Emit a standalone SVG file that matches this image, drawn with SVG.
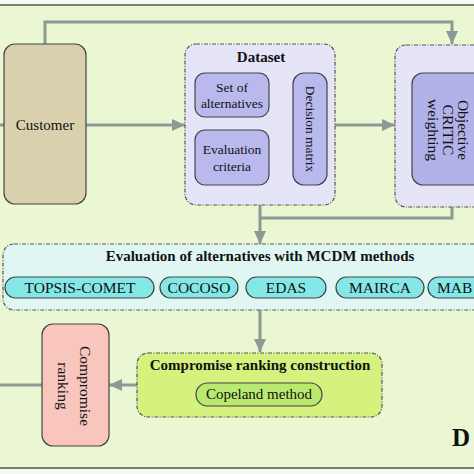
<svg xmlns="http://www.w3.org/2000/svg" width="474" height="474" viewBox="0 0 474 474">
<defs>
<marker id="ah" markerUnits="userSpaceOnUse" markerWidth="14" markerHeight="14" refX="13" refY="7" orient="auto">
<path d="M0,1 L13,7 L0,13 Z" fill="#8c9a96"/>
</marker>
<style>
.t{font-family:"Liberation Serif","Times New Roman",serif;fill:#111;text-anchor:middle}
.b{font-weight:bold}
.dash{stroke:#555;stroke-width:1.2;stroke-dasharray:4 1.5 1 1.5}
.solid{stroke:#444;stroke-width:1.2}
.con{fill:none;stroke:#8c9a96;stroke-width:3}
</style>
</defs>
<rect x="0" y="0" width="474" height="474" fill="#f5f9ef"/>
<rect x="0" y="5" width="474" height="463" fill="#ebf6d2"/>
<line x1="0" y1="5" x2="474" y2="5" stroke="#555" stroke-width="1.6"/>
<line x1="0" y1="468" x2="474" y2="468" stroke="#555" stroke-width="1.6"/>

<g id="connectors">
<path class="con" d="M0,125 H4"/>
<path class="con" d="M86,125 H185" marker-end="url(#ah)"/>
<path class="con" d="M45,44 V22 H452 V44" marker-end="url(#ah)"/>
<path class="con" d="M269,95 H277 V157 H269"/>
<path class="con" d="M277,128 H293" marker-end="url(#ah)"/>
<path class="con" d="M335,125 H395" marker-end="url(#ah)"/>
<path class="con" d="M260,205 V244" marker-end="url(#ah)"/>
<path class="con" d="M452,207 V218 H260"/>
<path class="con" d="M260,310 V352" marker-end="url(#ah)"/>
<path class="con" d="M137,385 H109" marker-end="url(#ah)"/>
<path class="con" d="M42,385 H0"/>
</g>

<g id="customer">
<rect x="4" y="44" width="82" height="160" rx="11" fill="#d9d1ae" class="solid"/>
<text class="t" x="45" y="130" font-size="15">Customer</text>
</g>

<g id="dataset">
<rect x="185" y="44" width="150" height="161" rx="11" fill="#e5e5f7" class="dash"/>
<text class="t b" x="261" y="62" font-size="15">Dataset</text>
</g>
<g id="set-of-alternatives">
<rect x="195" y="73" width="74" height="44" rx="10" fill="#b9b9ee" class="solid"/>
<text class="t" x="232" y="92" font-size="13.5">Set of</text>
<text class="t" x="232" y="108" font-size="13.5">alternatives</text>
</g>
<g id="evaluation-criteria">
<rect x="195" y="130" width="74" height="55" rx="10" fill="#b9b9ee" class="solid"/>
<text class="t" x="232" y="154" font-size="13.5">Evaluation</text>
<text class="t" x="232" y="171" font-size="13.5">criteria</text>
</g>
<g id="decision-matrix">
<rect x="293" y="73" width="34" height="112" rx="11" fill="#b9b9ee" class="solid"/>
<text class="t" transform="translate(310,129) rotate(90)" x="0" y="0" dominant-baseline="central" font-size="13.5">Decision matrix</text>
</g>

<g id="objective">
<rect x="395" y="45" width="90" height="162" rx="11" fill="#e5e5f7" class="dash"/>
<rect x="412" y="73" width="80" height="112" rx="11" fill="#b2b2ea" class="solid"/>
<g transform="translate(448,130) rotate(90)">
<text class="t" x="0" y="-15" dominant-baseline="central" font-size="15.5">Objective</text>
<text class="t" x="0" y="0" dominant-baseline="central" font-size="15.5">CRITIC</text>
<text class="t" x="0" y="15" dominant-baseline="central" font-size="15.5">weighting</text>
</g>
</g>

<g id="evaluation">
<rect x="3" y="244" width="490" height="66" rx="11" fill="#e0f6f3" class="dash"/>
<text class="t b" x="260" y="261" font-size="15">Evaluation of alternatives with MCDM methods</text>
</g>
<g id="topsis-comet">
<rect x="5" y="277" width="149" height="21" rx="10.5" fill="#85e8e6" class="solid"/>
<text class="t" x="80" y="293" font-size="15.5">TOPSIS-COMET</text>
</g>
<g id="cocoso">
<rect x="160" y="277" width="78" height="21" rx="10.5" fill="#85e8e6" class="solid"/>
<text class="t" x="199" y="293" font-size="15.5">COCOSO</text>
</g>
<g id="edas">
<rect x="246" y="277" width="80" height="21" rx="10.5" fill="#85e8e6" class="solid"/>
<text class="t" x="286" y="293" font-size="15.5">EDAS</text>
</g>
<g id="mairca">
<rect x="336" y="277" width="88" height="21" rx="10.5" fill="#85e8e6" class="solid"/>
<text class="t" x="380" y="293" font-size="15.5">MAIRCA</text>
</g>
<g id="mab">
<rect x="428" y="277" width="80" height="21" rx="10.5" fill="#85e8e6" class="solid"/>
<text class="t" x="437" y="293" font-size="15.5" style="text-anchor:start">MAB</text>
</g>

<g id="compromise-construction">
<rect x="137" y="353" width="245" height="64" rx="11" fill="#d5f17e" class="dash"/>
<text class="t b" x="260" y="370" font-size="15">Compromise ranking construction</text>
</g>
<g id="copeland">
<rect x="196" y="383" width="126" height="23" rx="11.5" fill="#b9e96e" class="solid"/>
<text class="t" x="259" y="399" font-size="15">Copeland method</text>
</g>

<g id="compromise-ranking">
<rect x="42" y="324" width="67" height="122" rx="11" fill="#f8c6bd" class="solid"/>
<g transform="translate(74,386) rotate(90)">
<text class="t" x="0" y="-11" dominant-baseline="central" font-size="15.5">Compromise</text>
<text class="t" x="0" y="11" dominant-baseline="central" font-size="15.5">ranking</text>
</g>
</g>

<text class="t b" x="461" y="446" font-size="25">D</text>
</svg>
